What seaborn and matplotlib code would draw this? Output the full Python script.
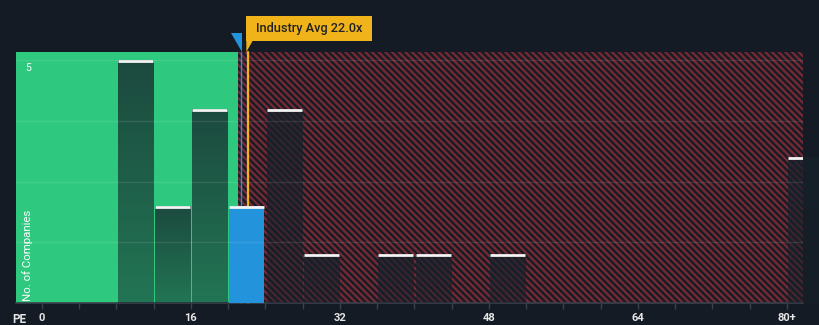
import numpy as np
import pandas as pd
import matplotlib
matplotlib.use("Agg")
import matplotlib.pyplot as plt
import matplotlib.transforms as mtransforms
from matplotlib.patches import Polygon, Rectangle
import seaborn as sns

# PE histogram of peer companies (bin lower edge -> number of companies)
bin_lower = [8, 12, 16, 20, 24, 28, 36, 40, 48, 80]
company_counts = [5, 2, 4, 2, 4, 1, 1, 1, 1, 3]
bin_width = 4
company_pe = 21.4
industry_avg = 22.0
tick_values = [0, 16, 32, 48, 64, 80]
tick_labels = ["0", "16", "32", "48", "64", "80+"]
annotation_text = "Industry Avg 22.0x"

BG = "#151b24"
GREEN = "#2ec87e"
BLUE = "#2394dc"
ORANGE = "#f0b31a"
BAR_DARK = (0.09, 0.13, 0.165)

sns.set_theme(style="dark")
plt.rcParams["font.family"] = ["Roboto", "DejaVu Sans"]
plt.rcParams["hatch.linewidth"] = 1.5

fig = plt.figure(figsize=(8.2, 3.25), dpi=100, facecolor=BG)
ax = fig.add_axes([16 / 820, 22 / 325, 787 / 820, 251 / 325])
ax.set_facecolor(BG)

x_min, x_max = -2.79, 81.74
y_max = 5.17

df = pd.DataFrame({"center": np.array(bin_lower, dtype=float) + bin_width / 2,
                   "count": np.array(company_counts, dtype=float)})
sns.histplot(data=df, x="center", weights="count", binwidth=bin_width,
             binrange=(0, 84), shrink=0.94, ax=ax, stat="count",
             edgecolor="none", linewidth=0, zorder=3)
bars = [p for p in ax.patches if p.get_height() > 0]

# zones: below the company's PE (green) and above it (red hatched)
zone_split = company_pe - 0.35
ax.axvspan(x_min, zone_split, facecolor=GREEN, edgecolor="none", zorder=0)
ax.axvspan(zone_split, x_max + 5, facecolor="#1b1c26", edgecolor="#7a2a35",
           hatch="\\\\\\\\\\", linewidth=0, zorder=0)

# bar fills: company's own bin in blue, the rest as a fading dark overlay
n = 64
alpha = np.linspace(0.76, 0.5, n)
grad = np.zeros((n, 1, 4))
grad[..., 0], grad[..., 1], grad[..., 2] = BAR_DARK
grad[:, 0, 3] = alpha
for p in bars:
    x0, w, h = p.get_x(), p.get_width(), p.get_height()
    if x0 <= company_pe < x0 + w:
        p.set_facecolor(BLUE)
        p.set_alpha(1)
    else:
        p.set_facecolor((0, 0, 0, 0))
        im = ax.imshow(grad, extent=[x0, x0 + w, 0, h], origin="upper",
                       aspect="auto", zorder=3, interpolation="bilinear")
        im.set_clip_path(p)
    ax.hlines(h - 0.02, x0, x0 + w, color="#f4f4f4", lw=2.0, zorder=5)

# horizontal guide lines
for gy in [1.25, 2.5, 3.75, 5.0]:
    ax.axhline(gy, color="white", alpha=0.1, lw=1, zorder=4)

# company and industry markers
trans = mtransforms.blended_transform_factory(ax.transData, ax.transAxes)
ax.plot([company_pe, company_pe], [0, 1.0], transform=trans, color=BLUE,
        lw=1, zorder=2, clip_on=False)
ax.add_patch(Polygon([(company_pe - 1.15, 1.076), (company_pe + 0.05, 1.076),
                      (company_pe + 0.05, 1.0)], closed=True, transform=trans,
                     facecolor=BLUE, edgecolor="none", clip_on=False, zorder=6))
ax.plot([industry_avg + 0.1, industry_avg + 0.1], [0, 1.0], transform=trans,
        color=ORANGE, lw=1.6, zorder=2, clip_on=False)
ax.add_patch(Polygon([(industry_avg - 0.05, 1.046), (industry_avg + 0.65, 1.046),
                      (industry_avg - 0.05, 1.0)], closed=True, transform=trans,
                     facecolor=ORANGE, edgecolor="none", clip_on=False, zorder=6))
ax.add_patch(Rectangle((industry_avg - 0.05, 1.044), 13.55, 0.1, transform=trans,
                       facecolor=ORANGE, edgecolor="none", clip_on=False, zorder=6))
ax.text(industry_avg + 0.95, 1.094, annotation_text, transform=trans,
        ha="left", va="center", fontsize=9.2, color="#222222", zorder=7,
        fontweight="medium")

ax.set_xlim(x_min, x_max)
ax.set_ylim(0, y_max)

# axes decoration
for s in ["top", "right", "left"]:
    ax.spines[s].set_visible(False)
ax.spines["bottom"].set_color("#3a404c")
ax.spines["bottom"].set_linewidth(1.2)
ax.set_xticks(np.arange(0, 84, 4), minor=True)
ax.set_xticks(tick_values)
ax.set_xticklabels(tick_labels, fontweight="bold")
ax.tick_params(axis="x", which="both", length=4, width=1, color="#3a404c",
               labelcolor="#e6e6e6", labelsize=8, pad=3, bottom=True)
ax.set_yticks([])
ax.set_xlabel("")
ax.set_ylabel("")
ax.grid(False)

ax.text(-2.4, -0.35, "PE", ha="center", va="center", fontsize=8.5,
        fontweight="bold", color="#e6e6e6", clip_on=False)
ax.text(0.0153, 0.936, "5", transform=ax.transAxes, ha="center", va="center",
        fontsize=7.5, color="white", zorder=7)
ax.text(0.0153, 0.19, "No. of Companies", transform=ax.transAxes,
        ha="center", va="center", rotation=90, fontsize=8.2, color="white",
        zorder=7)

fig.savefig("out.png", dpi=100, facecolor=BG)
